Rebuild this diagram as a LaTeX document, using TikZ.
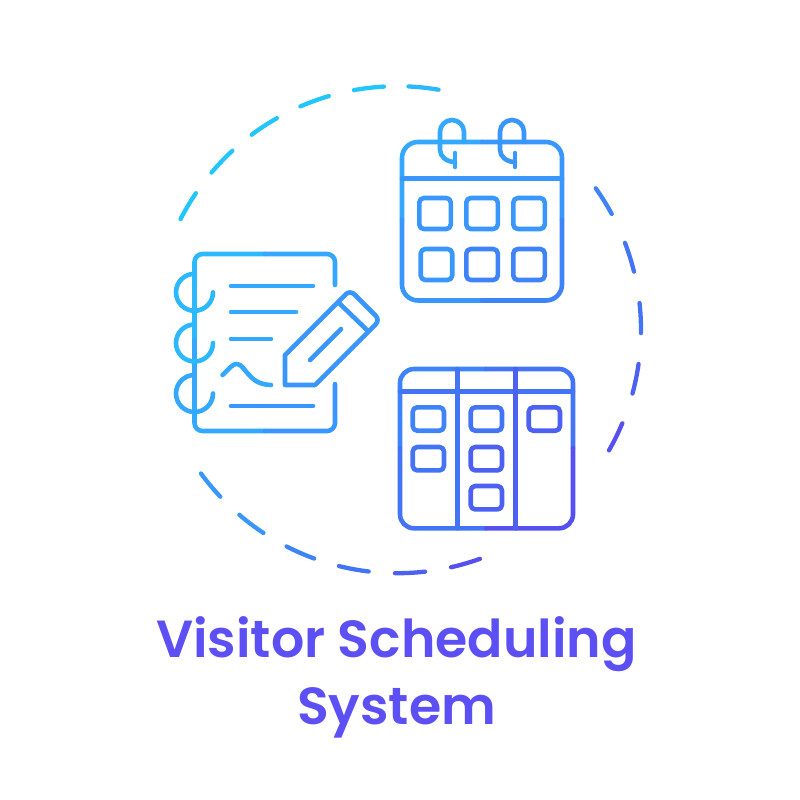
\documentclass[tikz,border=0pt]{standalone}
\usepackage{fontspec}
\setmainfont{Poppins}[BoldFont={* SemiBold}]
\usepackage{xcolor}
\usepackage{tikz}

\definecolor{tone1}{HTML}{22C6FA}
\definecolor{tone2}{HTML}{2CB8FC}
\definecolor{tone3}{HTML}{33A8FE}
\definecolor{tone4}{HTML}{3896FC}
\definecolor{tone5}{HTML}{3E84F8}
\definecolor{tone6}{HTML}{4474F6}
\definecolor{tone7}{HTML}{4C60F2}
\definecolor{tone8}{HTML}{5650F0}
\definecolor{titleink}{HTML}{5C50F5}

\tikzset{
	icon/.style={line width=4.6pt, line cap=round, line join=round},
	dashpiece/.style={line width=4.3pt, line cap=round},
	frame/.style={icon, rounded corners=#1},
	card/.style={icon, rounded corners=4.5pt},
	title/.style={anchor=base, text=titleink, font=\fontsize{52.2}{52.2}\selectfont\bfseries}
}

\begin{document}
\begin{tikzpicture}[x=1pt, y=-1pt]
	\useasboundingbox (0,0) rectangle (800,800);

	% dashed ring
	\coordinate (hub) at (397.5,329.7);
	\foreach \a/\t in {207/1, 220.2/1, 233.2/1, 246.5/1, 259.7/1, 272.6/2,
			324.5/5, 339.1/6, 353.7/6, 368.1/7, 382.6/8,
			70.2/8, 83.5/7, 96.8/6, 110/5, 123.4/4, 136.7/4}
		\draw[dashpiece, tone\t] (hub) ++(\a:243.5) arc[start angle=\a, delta angle=7.1, radius=243.5];

	% notebook
	\draw[frame=8pt, tone2] (265,254) -- (194.5,254) -- (194.5,340);
	\draw[frame=8pt, tone3] (335,285) -- (335,254) -- (265,254);
	\draw[frame=8pt, tone3] (194.5,340) -- (194.5,431) -- (265,431);
	\draw[frame=8pt, tone4] (265,431) -- (335,431) -- (335,384);
	\foreach \y/\t in {292.3/2, 343/2, 393.5/3}
		\draw[icon, tone\t] (194.5,\y) ++(0,-18.5) arc[start angle=-90, end angle=-360, radius=18.5];
	\draw[icon, tone3] (231,286) -- (313,286);
	\draw[icon, tone3] (231,312) -- (296,312);
	\draw[icon, tone3] (231,339) -- (271,339);
	\draw[icon, tone4] (231,406) -- (313,406);
	\draw[icon, tone3] (222.5,375) .. controls (230,368) and (233,363.5) .. (237,364)
		.. controls (246,365) and (248,384.5) .. (271,385);

	% pencil
	\draw[icon, tone4] (285,355) [rounded corners=6pt] -- (350,290) -- (380,320) [sharp corners] -- (315,385) -- (285,385) -- cycle;
	\draw[icon, tone4] (339,303) -- (368,331);
	\draw[icon, tone4] (310,360) -- (341,329);

	% calendar
	\draw[frame=16pt, tone3] (482,142) -- (402,142) -- (402,220);
	\draw[frame=16pt, tone4] (482,142) -- (562,142) -- (562,220);
	\draw[frame=16pt, tone4] (402,220) -- (402,300.5) -- (482,300.5);
	\draw[frame=16pt, tone5] (562,220) -- (562,300.5) -- (482,300.5);
	\draw[icon, tone4] (402,178.7) -- (562,178.7);
	\foreach \x/\t in {440/3, 500/4} {
		\draw[icon, tone\t] (\x+24,142) -- (\x+24,132) arc[start angle=0, end angle=-180, radius=12]
			-- (\x,150) arc[start angle=180, end angle=90, x radius=15, y radius=12];
		\draw[icon, tone\t] (\x+15,153) -- (\x+15,167);
	}
	\foreach \x/\y/\t in {419.3/198/4, 466.3/198/4, 513.3/198/4,
			420.7/249/4, 466.3/249/5, 513.3/249/5}
		\draw[card, tone\t] (\x,\y) rectangle ++(31.5,31);

	% board
	\draw[frame=14pt, tone5] (486,369) -- (400,369) -- (400,448);
	\draw[frame=14pt, tone6] (486,369) -- (573,369) -- (573,448);
	\draw[frame=14pt, tone6] (400,448) -- (400,528.3) -- (486,528.3);
	\draw[frame=14pt, tone8] (573,448) -- (573,528.3) -- (486,528.3);
	\draw[icon, tone6] (400,391.7) -- (573,391.7);
	\draw[icon, tone6] (457.7,369) -- (457.7,528.3);
	\draw[icon, tone7] (515.3,369) -- (515.3,528.3);
	\foreach \x/\y/\t in {412.7/407.3/5, 412.7/447/6, 470.7/407.3/6,
			470.7/447/7, 470.7/486/7, 528.7/407.3/7}
		\draw[card, tone\t] (\x,\y) rectangle ++(31.3,23.4);

	% caption
	\node[title] (line1) at (396.5,657.7) {Visitor Scheduling};
	\node[title] (line2) at (396.5,724.5) {System};
\end{tikzpicture}
\end{document}
